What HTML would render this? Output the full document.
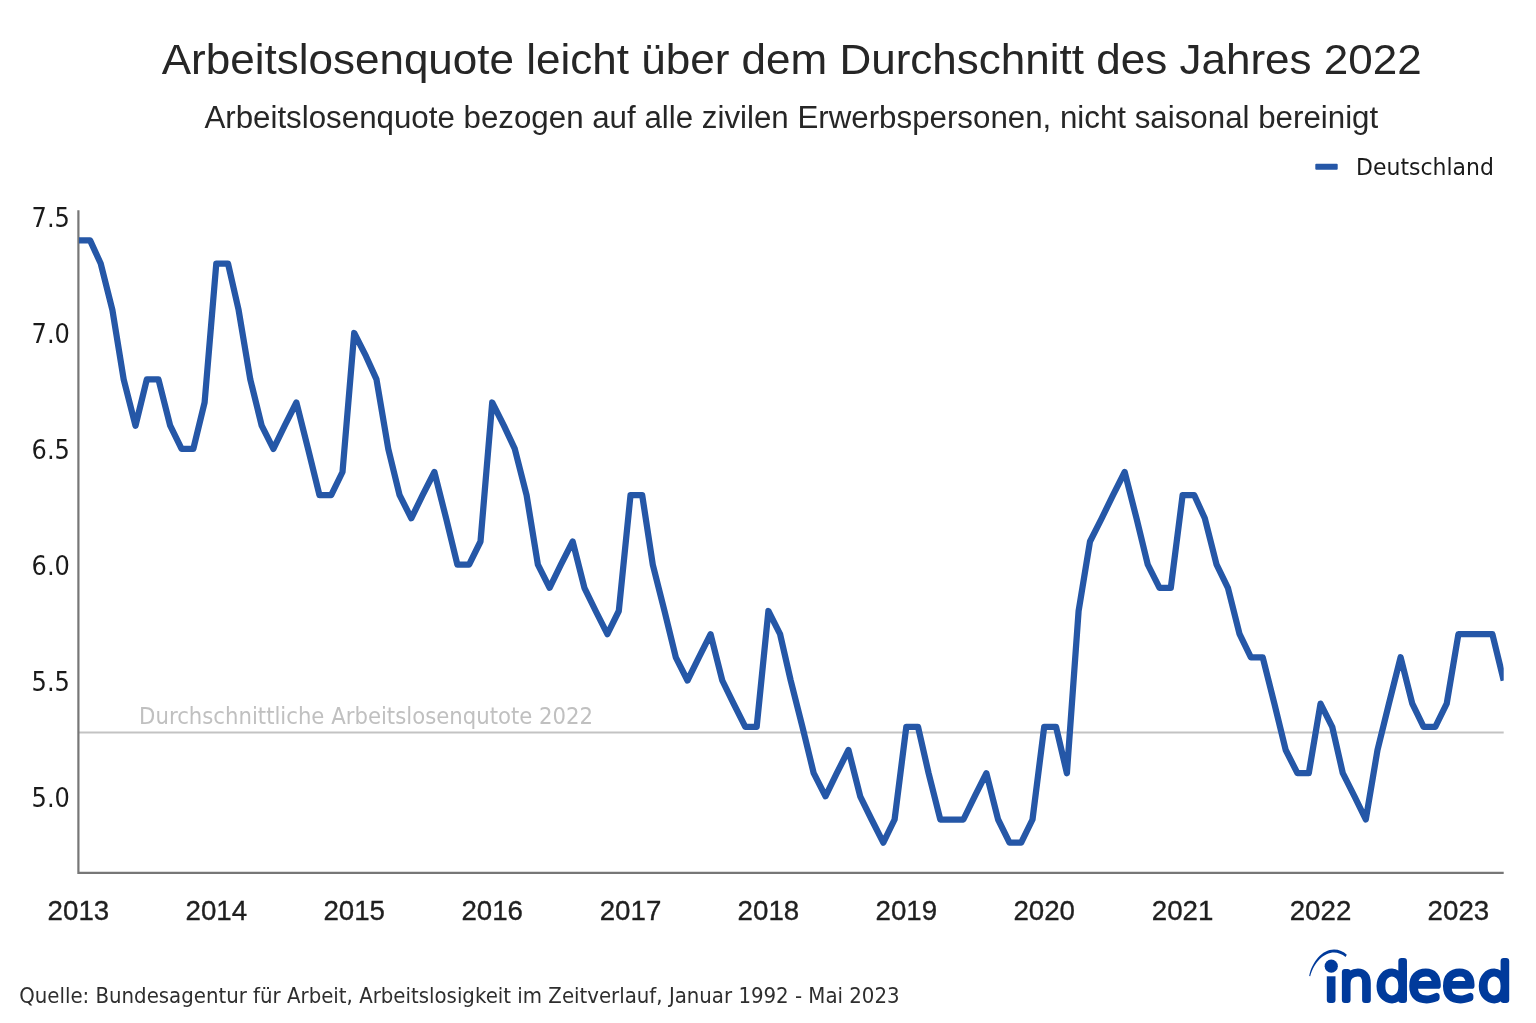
<!DOCTYPE html>
<html lang="de"><head><meta charset="utf-8"><title>Arbeitslosenquote</title>
<style>
html,body{margin:0;padding:0;background:#fff;}
svg{display:block;}
.t{font-family:"Liberation Sans", sans-serif;}
.o{font-family:"DejaVu Sans", "Liberation Sans", sans-serif;}
</style></head><body>
<svg width="1536" height="1023" viewBox="0 0 1536 1023">
<defs><clipPath id="plot"><rect x="78.9" y="200" width="1424.8" height="672"/></clipPath></defs>
<rect width="1536" height="1023" fill="#fff"/>
<text class="t" x="161.7" y="74.3" font-size="43.3" fill="#262626" text-anchor="start" textLength="1260" lengthAdjust="spacingAndGlyphs">Arbeitslosenquote leicht über dem Durchschnitt des Jahres 2022</text>
<text class="t" x="204.4" y="127.9" font-size="31" fill="#262626" text-anchor="start" textLength="1173.8" lengthAdjust="spacingAndGlyphs">Arbeitslosenquote bezogen auf alle zivilen Erwerbspersonen, nicht saisonal bereinigt</text>
<rect x="1315.3" y="163.7" width="22.4" height="6.15" rx="1" fill="#2557a7"/>
<text class="o" x="1356.1" y="175.1" font-size="23.2" fill="#1a1a1a" text-anchor="start" textLength="137.8" lengthAdjust="spacingAndGlyphs">Deutschland</text>
<text class="o" x="31.6" y="227.4" font-size="25.8" fill="#1a1a1a" textLength="38.3" lengthAdjust="spacingAndGlyphs">7.5</text>
<text class="o" x="31.6" y="343.2" font-size="25.8" fill="#1a1a1a" textLength="38.3" lengthAdjust="spacingAndGlyphs">7.0</text>
<text class="o" x="31.6" y="459.1" font-size="25.8" fill="#1a1a1a" textLength="38.3" lengthAdjust="spacingAndGlyphs">6.5</text>
<text class="o" x="31.6" y="574.9" font-size="25.8" fill="#1a1a1a" textLength="38.3" lengthAdjust="spacingAndGlyphs">6.0</text>
<text class="o" x="31.6" y="690.7" font-size="25.8" fill="#1a1a1a" textLength="38.3" lengthAdjust="spacingAndGlyphs">5.5</text>
<text class="o" x="31.6" y="806.5" font-size="25.8" fill="#1a1a1a" textLength="38.3" lengthAdjust="spacingAndGlyphs">5.0</text>
<line x1="78.4" y1="732.5" x2="1503.7" y2="732.5" stroke="#c3c3c3" stroke-width="2"/>
<text class="o" x="139.1" y="723.5" font-size="23.4" fill="#c0c0c0" text-anchor="start" textLength="454" lengthAdjust="spacingAndGlyphs">Durchschnittliche Arbeitslosenqutote 2022</text>
<path d="M78.4 210.2 V872.9 H1503.7" fill="none" stroke="#777777" stroke-width="2.2"/>
<polyline clip-path="url(#plot)" points="78.4,240.4 90.1,240.4 100.7,263.5 112.4,309.9 123.7,379.4 135.5,425.7 146.8,379.4 158.5,379.4 170.2,425.7 181.6,448.9 193.3,448.9 204.6,402.5 216.3,263.5 228.0,263.5 238.6,309.9 250.3,379.4 261.7,425.7 273.4,448.9 284.7,425.7 296.4,402.5 308.1,448.9 319.5,495.2 331.2,495.2 342.5,472.0 354.2,333.0 366.0,356.2 376.5,379.4 388.3,448.9 399.6,495.2 411.3,518.3 422.6,495.2 434.4,472.0 446.1,518.3 457.4,564.7 469.1,564.7 480.5,541.5 492.2,402.5 503.9,425.7 514.8,448.9 526.6,495.2 537.9,564.7 549.6,587.8 560.9,564.7 572.7,541.5 584.4,587.8 595.7,611.0 607.4,634.2 618.8,611.0 630.5,495.2 642.2,495.2 652.8,564.7 664.5,611.0 675.8,657.3 687.5,680.5 698.9,657.3 710.6,634.2 722.3,680.5 733.6,703.7 745.3,726.8 756.7,726.8 768.4,611.0 780.1,634.2 790.7,680.5 802.4,726.8 813.7,773.2 825.5,796.3 836.8,773.2 848.5,750.0 860.2,796.3 871.6,819.5 883.3,842.7 894.6,819.5 906.3,726.8 918.0,726.8 928.6,773.2 940.3,819.5 951.7,819.5 963.4,819.5 974.7,796.3 986.4,773.2 998.1,819.5 1009.5,842.7 1021.2,842.7 1032.5,819.5 1044.2,726.8 1056.0,726.8 1066.9,773.2 1078.6,611.0 1090.0,541.5 1101.7,518.3 1113.0,495.2 1124.7,472.0 1136.5,518.3 1147.8,564.7 1159.5,587.8 1170.8,587.8 1182.6,495.2 1194.3,495.2 1204.8,518.3 1216.6,564.7 1227.9,587.8 1239.6,634.2 1250.9,657.3 1262.7,657.3 1274.4,703.7 1285.7,750.0 1297.4,773.2 1308.8,773.2 1320.5,703.7 1332.2,726.8 1342.8,773.2 1354.5,796.3 1365.8,819.5 1377.5,750.0 1388.9,703.7 1400.6,657.3 1412.3,703.7 1423.6,726.8 1435.3,726.8 1446.7,703.7 1458.4,634.2 1470.1,634.2 1480.7,634.2 1492.4,634.2 1503.7,680.5" fill="none" stroke="#2557a7" stroke-width="6.25" stroke-linejoin="round" stroke-linecap="butt"/>
<text class="t" x="78.4" y="919.7" font-size="27.5" fill="#1f1f1f" text-anchor="middle" textLength="61.6" lengthAdjust="spacingAndGlyphs" stroke="#1f1f1f" stroke-width="0.35">2013</text>
<text class="t" x="216.3" y="919.7" font-size="27.5" fill="#1f1f1f" text-anchor="middle" textLength="61.6" lengthAdjust="spacingAndGlyphs" stroke="#1f1f1f" stroke-width="0.35">2014</text>
<text class="t" x="354.2" y="919.7" font-size="27.5" fill="#1f1f1f" text-anchor="middle" textLength="61.6" lengthAdjust="spacingAndGlyphs" stroke="#1f1f1f" stroke-width="0.35">2015</text>
<text class="t" x="492.2" y="919.7" font-size="27.5" fill="#1f1f1f" text-anchor="middle" textLength="61.6" lengthAdjust="spacingAndGlyphs" stroke="#1f1f1f" stroke-width="0.35">2016</text>
<text class="t" x="630.5" y="919.7" font-size="27.5" fill="#1f1f1f" text-anchor="middle" textLength="61.6" lengthAdjust="spacingAndGlyphs" stroke="#1f1f1f" stroke-width="0.35">2017</text>
<text class="t" x="768.4" y="919.7" font-size="27.5" fill="#1f1f1f" text-anchor="middle" textLength="61.6" lengthAdjust="spacingAndGlyphs" stroke="#1f1f1f" stroke-width="0.35">2018</text>
<text class="t" x="906.3" y="919.7" font-size="27.5" fill="#1f1f1f" text-anchor="middle" textLength="61.6" lengthAdjust="spacingAndGlyphs" stroke="#1f1f1f" stroke-width="0.35">2019</text>
<text class="t" x="1044.2" y="919.7" font-size="27.5" fill="#1f1f1f" text-anchor="middle" textLength="61.6" lengthAdjust="spacingAndGlyphs" stroke="#1f1f1f" stroke-width="0.35">2020</text>
<text class="t" x="1182.6" y="919.7" font-size="27.5" fill="#1f1f1f" text-anchor="middle" textLength="61.6" lengthAdjust="spacingAndGlyphs" stroke="#1f1f1f" stroke-width="0.35">2021</text>
<text class="t" x="1320.5" y="919.7" font-size="27.5" fill="#1f1f1f" text-anchor="middle" textLength="61.6" lengthAdjust="spacingAndGlyphs" stroke="#1f1f1f" stroke-width="0.35">2022</text>
<text class="t" x="1458.4" y="919.7" font-size="27.5" fill="#1f1f1f" text-anchor="middle" textLength="61.6" lengthAdjust="spacingAndGlyphs" stroke="#1f1f1f" stroke-width="0.35">2023</text>
<text class="o" x="19.2" y="1003.2" font-size="21" fill="#2e2e2e" text-anchor="start" textLength="880.4" lengthAdjust="spacingAndGlyphs">Quelle: Bundesagentur für Arbeit, Arbeitslosigkeit im Zeitverlauf, Januar 1992 - Mai 2023</text>
<g id="logo">
<text transform="scale(1.07,1)" x="1237.27 1251.09 1285.30 1315.79 1347.52 1380.91" y="999.6" font-family="'DejaVu Sans', 'Liberation Sans', sans-serif" font-weight="200" font-size="51.4" fill="#003a9b" stroke="#003a9b" stroke-width="5.8" stroke-linejoin="round" stroke-linecap="round">indeed</text>
<rect x="1323.5" y="944" width="16.5" height="32.3" fill="#fff"/>
<circle cx="1331.25" cy="966.2" r="6.6" fill="#003a9b"/>
<path d="M1309.2 976 C1312 962 1322 949.5 1334 949.5 C1339 949.5 1343.5 951.5 1346.8 954.8 L1345.6 957 C1342 954 1338 952.4 1334 952.4 C1324 952.4 1314 962 1310.2 976.2 Z" fill="#003a9b"/>
</g>

</svg></body></html>
